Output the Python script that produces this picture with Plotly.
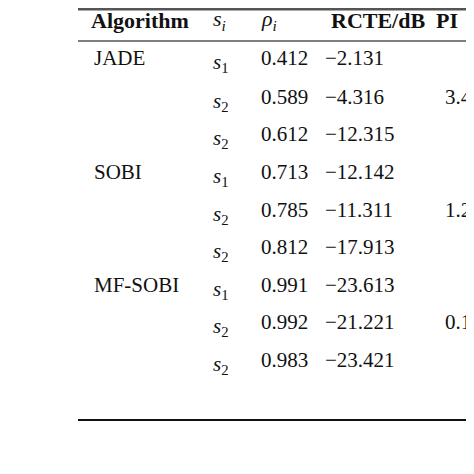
import plotly.graph_objects as go

algorithms = ["JADE", "", "", "SOBI", "", "", "MF-SOBI", "", ""]
sources = ["1", "2", "2", "1", "2", "2", "1", "2", "2"]
rho = ["0.412", "0.589", "0.612", "0.713", "0.785", "0.812", "0.991", "0.992", "0.983"]
rcte = ["\u22122.131", "\u22124.316", "\u221212.315", "\u221212.142", "\u221211.311",
        "\u221217.913", "\u221223.613", "\u221221.221", "\u221223.421"]
pi_vals = ["", "3.4", "", "", "1.2", "", "", "0.1", ""]
headers = ["<b>Algorithm</b>", "<i>s<sub>i</sub></i>", "<i>\u03c1<sub>i</sub></i>", "<b>RCTE/dB</b>", "<b>PI</b>"]
header_x = [92, 214, 262, 332, 437]
row_y = [58, 97, 134, 172, 210, 247, 285, 322, 360]

font = dict(family="Liberation Serif, DejaVu Serif, serif", size=21, color="#111")
fig = go.Figure()
ann = []
for t, x in zip(headers, header_x):
    ann.append(dict(x=x, y=20, text=t, font=dict(font, size=22)))
for i, y in enumerate(row_y):
    ann.append(dict(x=95, y=y, text=algorithms[i]))
    ann.append(dict(x=214, y=y + 5, text="<i>s</i><sub>" + sources[i] + "</sub>"))
    ann.append(dict(x=262, y=y, text=rho[i]))
    ann.append(dict(x=326, y=y, text=rcte[i]))
    ann.append(dict(x=446, y=y, text=pi_vals[i]))
ann.append(dict(x=0, y=447, text="ring Figures 2\u20136, it can be seen that the uncertainty"))
for a in ann:
    a.setdefault("font", font)
    a.update(xref="x", yref="y", xanchor="left", yanchor="middle", showarrow=False, borderpad=0)

fig.update_layout(
    width=474, height=474, margin=dict(l=0, r=0, t=0, b=0),
    plot_bgcolor="white", paper_bgcolor="white",
    xaxis=dict(range=[10, 484], visible=False),
    yaxis=dict(range=[482, 8], visible=False),
    annotations=ann,
    shapes=[
        dict(type="line", xref="x", yref="y", x0=80, x1=490, y0=9, y1=9, line=dict(color="#555", width=3)),
        dict(type="line", xref="x", yref="y", x0=80, x1=490, y0=41, y1=41, line=dict(color="#555", width=1.5)),
        dict(type="line", xref="x", yref="y", x0=80, x1=490, y0=420, y1=420, line=dict(color="#111", width=2)),
    ],
)
fig.write_html("out.html")
